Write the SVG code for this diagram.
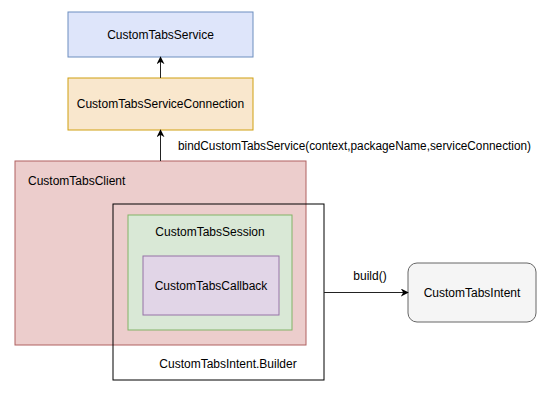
<svg xmlns="http://www.w3.org/2000/svg" width="552" height="403" viewBox="0 0 552 403">
<style>
text{font-family:"Liberation Sans",Arial,sans-serif;font-size:12px;fill:#000}
.c{text-anchor:middle}
.edge{stroke:#222;stroke-width:1;fill:none}
</style>
<defs>
<marker id="arr" viewBox="0 0 10 10" refX="9" refY="5" markerWidth="8" markerHeight="8" markerUnits="userSpaceOnUse" orient="auto">
<path d="M0,0 L10,5 L0,10 L3,5 Z" fill="#000"/>
</marker>
</defs>
<rect width="552" height="403" fill="#fff"/>
<g id="service">
<rect x="68" y="12" width="185" height="45" fill="#dee5fa" stroke="#6c8ebf"/>
<text class="c" x="160.5" y="39">CustomTabsService</text>
</g>
<g id="connection">
<rect x="68" y="78" width="185" height="52" fill="#f9e7cd" stroke="#d0a010"/>
<text class="c" x="160.5" y="108">CustomTabsServiceConnection</text>
</g>
<g id="client">
<rect x="15" y="161" width="291" height="184" fill="#eccdcc" stroke="#b06060"/>
<text x="28" y="185">CustomTabsClient</text>
</g>
<g id="session">
<rect x="128" y="215" width="164" height="115" fill="#d9e8d6" stroke="#82b366"/>
<text class="c" x="210" y="236">CustomTabsSession</text>
</g>
<g id="callback">
<rect x="143" y="256" width="136" height="59" fill="#e1d5e7" stroke="#9673a6"/>
<text class="c" x="211" y="290">CustomTabsCallback</text>
</g>
<g id="builder">
<rect x="113" y="204" width="211" height="176" fill="none" stroke="#000"/>
<text class="c" x="228" y="368">CustomTabsIntent.Builder</text>
</g>
<g id="intent">
<rect x="408" y="263" width="128" height="59" rx="9" ry="9" fill="#f5f5f5" stroke="#666"/>
<text class="c" x="472" y="297">CustomTabsIntent</text>
</g>
<g id="connectors">
<line class="edge" x1="160.5" y1="78" x2="160.5" y2="57" marker-end="url(#arr)"/>
<line class="edge" x1="160.5" y1="161" x2="160.5" y2="130" marker-end="url(#arr)"/>
<text x="178" y="150" textLength="353" lengthAdjust="spacingAndGlyphs">bindCustomTabsService(context,packageName,serviceConnection)</text>
<line class="edge" x1="324" y1="292.5" x2="408" y2="292.5" marker-end="url(#arr)"/>
<text class="c" x="370" y="280">build()</text>
</g>
</svg>
